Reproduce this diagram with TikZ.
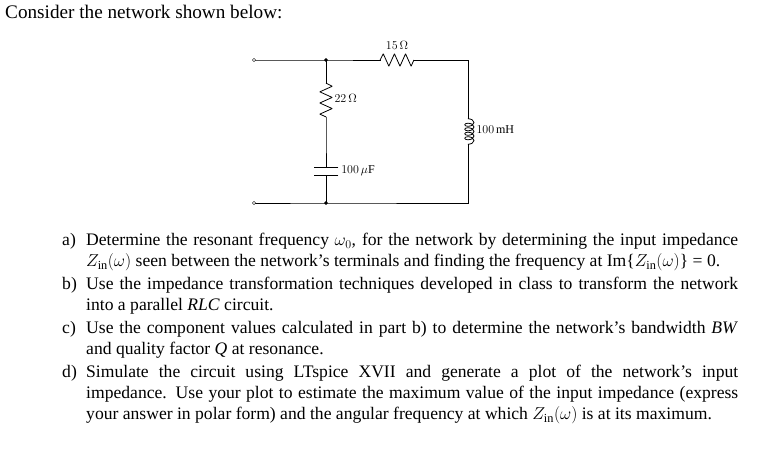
\documentclass[tikz,border=0pt]{standalone}
\usepackage{fontspec}
\setmainfont{Liberation Serif}
\usepackage{circuitikz}
\ctikzset{bipoles/length=1.45cm}

\newcommand{\itemfont}{\fontsize{17.6}{21}\selectfont\hyphenpenalty 10000 }

\tikzset{
    item/.style={anchor=north west, text width=652pt, align=justify, inner sep=0pt,
        font=\itemfont},
    tag/.style={anchor=north west, inner sep=0pt, font=\fontsize{17.6}{21}\selectfont},
}

\begin{document}
\begin{tikzpicture}[x=1pt, y=-1pt]
    \useasboundingbox (0, 0) rectangle (770, 456);

    \node[tag, font=\fontsize{19.2}{21}\selectfont] (title) at (5, 5) {Consider the network shown below:};

    \begin{scope}[
        every path/.style={thin},
        font=\fontsize{12}{13}\selectfont,
    ]
        \coordinate (Ta) at (254, 60);
        \coordinate (Tb) at (254, 203);
        \coordinate (Ja) at (326, 60);
        \coordinate (Jb) at (326, 203);
        \coordinate (Ra) at (468, 60);
        \coordinate (Rb) at (468, 203);
        \coordinate (Mid) at (326, 140);

        \draw (Ta) node[ocirc] {} -- (Ja) node[circ] {}
            to[R, l=$15\,\Omega$] (Ra)
            to[L, l=$100\,\mathrm{mH}$] (Rb)
            -- (Jb) node[circ] {} -- (Tb) node[ocirc] {};
        \draw (Ja) to[R, l=$22\,\Omega$] (Mid)
            to[C, l=$100\,\mathrm{\mu F}$] (Jb);
    \end{scope}

    \node[tag] (la) at (62, 233) {a)};
    \node[item] (pa) at (86, 233) {Determine the resonant frequency $\omega_0$, for the network by determining the input impedance $Z_{\mathrm{in}}(\omega)$ seen between the network's terminals and finding the frequency at Im\{$Z_{\mathrm{in}}(\omega)$\} = 0.};
    \node[tag] (lb) at (62, 277) {b)};
    \node[item] (pb) at (86, 277) {Use the impedance transformation techniques developed in class to transform the network into a parallel \textit{RLC} circuit.};
    \node[tag] (lc) at (62, 321) {c)};
    \node[item] (pc) at (86, 321) {Use the component values calculated in part b) to determine the network's bandwidth \textit{BW}\linebreak and quality factor \textit{Q} at resonance.};
    \node[tag] (ld) at (62, 365) {d)};
    \node[item] (pd) at (86, 365) {Simulate the circuit using LTspice XVII and generate a plot of the network's input\linebreak impedance. Use your plot to estimate the maximum value of the input impedance (express\linebreak your answer in polar form) and the angular frequency at which $Z_{\mathrm{in}}(\omega)$ is at its maximum.};
\end{tikzpicture}
\end{document}
